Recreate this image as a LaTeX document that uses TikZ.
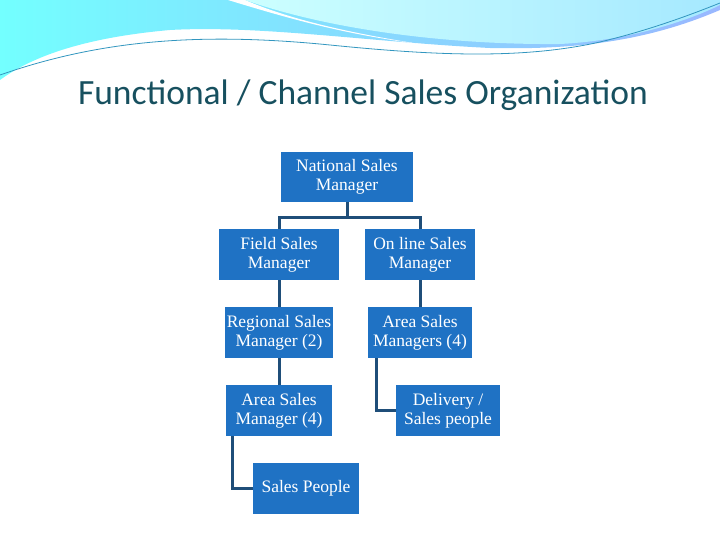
\documentclass[tikz,border=0pt]{standalone}
\usepackage{fontspec}
\setmainfont{Liberation Serif}
\newfontfamily\titlefont{Carlito}
\begin{document}
\begin{tikzpicture}[x=1pt,y=-1pt,
  box/.style={fill=boxblue,text=white,inner sep=0pt,align=center,font=\fontsize{17.5}{19}\selectfont},
  link/.style={draw=lineblue,line width=3pt}]
\definecolor{boxblue}{HTML}{1F72C4}
\definecolor{lineblue}{HTML}{1F4E79}
\definecolor{titlecol}{HTML}{17505F}
\useasboundingbox (0,0) rectangle (720,540);
% decoration
\shade[left color=cyan!55!white,right color=cyan!30!blue!40!white]
  (0,0) -- (720,0) -- (720,10) .. controls (650,40) and (580,50) .. (490,48)
  .. controls (370,42) and (260,25) .. (170,30) .. controls (80,38) and (30,58) .. (0,80) -- cycle;
\shade[left color=cyan!20!white,right color=blue!25!cyan!35!white]
  (245,0) .. controls (330,30) and (450,45) .. (560,44) .. controls (640,40) and (700,15) .. (720,5) -- (720,0) -- cycle;
\fill[white] (228,0) .. controls (300,22) and (350,35) .. (420,44) .. controls (330,30) and (280,15) .. (245,0) -- cycle;
\draw[cyan!50!teal,line width=0.8pt] (0,75) .. controls (100,40) and (200,32) .. (330,45) .. controls (430,55) and (520,60) .. (600,42) .. controls (650,30) and (690,15) .. (720,3);
\node[font=\titlefont\fontsize{35.5}{40}\selectfont,text=titlecol] (title) at (363,95) {Functional / Channel Sales Organization};
% boxes
\node[box,minimum width=132,minimum height=50] (nat) at (347,177) {National Sales\\Manager};
\node[box,minimum width=120,minimum height=51] (field) at (279,254.5) {Field Sales\\Manager};
\node[box,minimum width=110,minimum height=51] (online) at (420,254.5) {On line Sales\\Manager};
\node[box,minimum width=108,minimum height=51] (reg) at (279,332.5) {Regional Sales\\Manager (2)};
\node[box,minimum width=104,minimum height=51] (asms) at (420,332.5) {Area Sales\\Managers (4)};
\node[box,minimum width=106,minimum height=51] (asm) at (279,410.5) {Area Sales\\Manager (4)};
\node[box,minimum width=104,minimum height=51] (del) at (448,410.5) {Delivery /\\Sales people};
\node[box,minimum width=106,minimum height=51] (sp) at (306,488.5) {Sales People};
% connectors
\coordinate (j) at (347,218);
\draw[link] (nat.south) -- (j);
\draw[link] (field.north) |- (j) -| (online.north);
\draw[link] (field.south) -- (reg.north);
\draw[link] (online.south) -- (asms.north);
\draw[link] (reg.south) -- (asm.north);
\draw[link] ([xshift=-47pt]asm.south) |- (sp.west);
\draw[link] ([xshift=-44pt]asms.south) |- (del.west);
\end{tikzpicture}
\end{document}
